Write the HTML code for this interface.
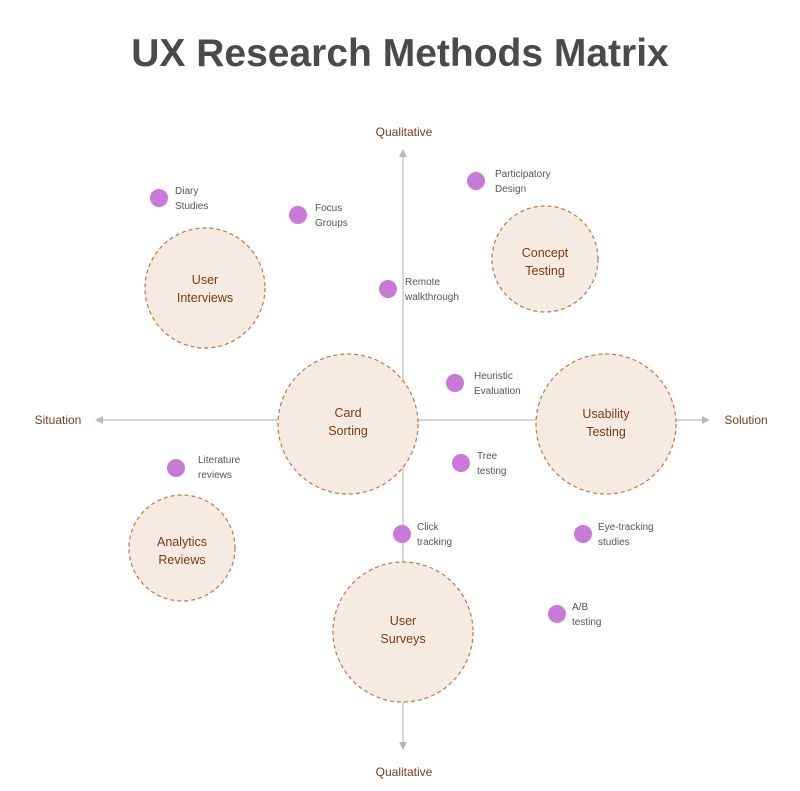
<!DOCTYPE html>
<html><head><meta charset="utf-8"><style>
html,body{margin:0;padding:0;background:#fff;}
svg{display:block;}
</style></head><body>
<svg width="800" height="791" viewBox="0 0 800 791" xmlns="http://www.w3.org/2000/svg" font-family="Liberation Sans, sans-serif">
<text x="400" y="66" text-anchor="middle" font-size="39" font-weight="bold" fill="#4a4a4a">UX Research Methods Matrix</text>
<g stroke="#c8c8c8" stroke-width="1.5">
<line x1="403" y1="155" x2="403" y2="744"/>
<line x1="100" y1="420" x2="705" y2="420"/>
</g>
<g fill="#b8b8b8">
<polygon points="403,149 399,157 407,157"/>
<polygon points="403,750 399,742 407,742"/>
<polygon points="95,420 103,416 103,424"/>
<polygon points="710,420 702,416 702,424"/>
</g>
<g font-size="12" fill="#7a3a14" text-anchor="middle">
<text x="404" y="136">Qualitative</text>
<text x="404" y="776">Qualitative</text>
<text x="58" y="424">Situation</text>
<text x="746" y="424">Solution</text>
</g>
<g fill="#f6ebe2" stroke="#c8743c" stroke-width="1.2" stroke-dasharray="4,3">
<circle cx="205" cy="288" r="60"/>
<circle cx="545" cy="259" r="53"/>
<circle cx="348" cy="424" r="70"/>
<circle cx="606" cy="424" r="70"/>
<circle cx="182" cy="548" r="53"/>
<circle cx="403" cy="632" r="70"/>
</g>
<g font-size="12.5" fill="#7a3a14" text-anchor="middle">
<text x="205" y="284">User</text><text x="205" y="302">Interviews</text>
<text x="545" y="257">Concept</text><text x="545" y="275">Testing</text>
<text x="348" y="417">Card</text><text x="348" y="435">Sorting</text>
<text x="606" y="418">Usability</text><text x="606" y="436">Testing</text>
<text x="182" y="546">Analytics</text><text x="182" y="564">Reviews</text>
<text x="403" y="625">User</text><text x="403" y="643">Surveys</text>
</g>
<g fill="#c97ad8">
<circle cx="159" cy="198" r="9"/>
<circle cx="298" cy="215" r="9"/>
<circle cx="476" cy="181" r="9"/>
<circle cx="388" cy="289" r="9"/>
<circle cx="455" cy="383" r="9"/>
<circle cx="461" cy="463" r="9"/>
<circle cx="176" cy="468" r="9"/>
<circle cx="402" cy="534" r="9"/>
<circle cx="583" cy="534" r="9"/>
<circle cx="557" cy="614" r="9"/>
</g>
<g font-size="10" fill="#555">
<text x="175" y="194">Diary</text><text x="175" y="209">Studies</text>
<text x="315" y="211">Focus</text><text x="315" y="226">Groups</text>
<text x="495" y="177">Participatory</text><text x="495" y="192">Design</text>
<text x="405" y="285">Remote</text><text x="405" y="300">walkthrough</text>
<text x="474" y="379">Heuristic</text><text x="474" y="394">Evaluation</text>
<text x="477" y="459">Tree</text><text x="477" y="474">testing</text>
<text x="198" y="463">Literature</text><text x="198" y="478">reviews</text>
<text x="417" y="530">Click</text><text x="417" y="545">tracking</text>
<text x="598" y="530">Eye-tracking</text><text x="598" y="545">studies</text>
<text x="572" y="610">A/B</text><text x="572" y="625">testing</text>
</g>
</svg>
</body></html>
